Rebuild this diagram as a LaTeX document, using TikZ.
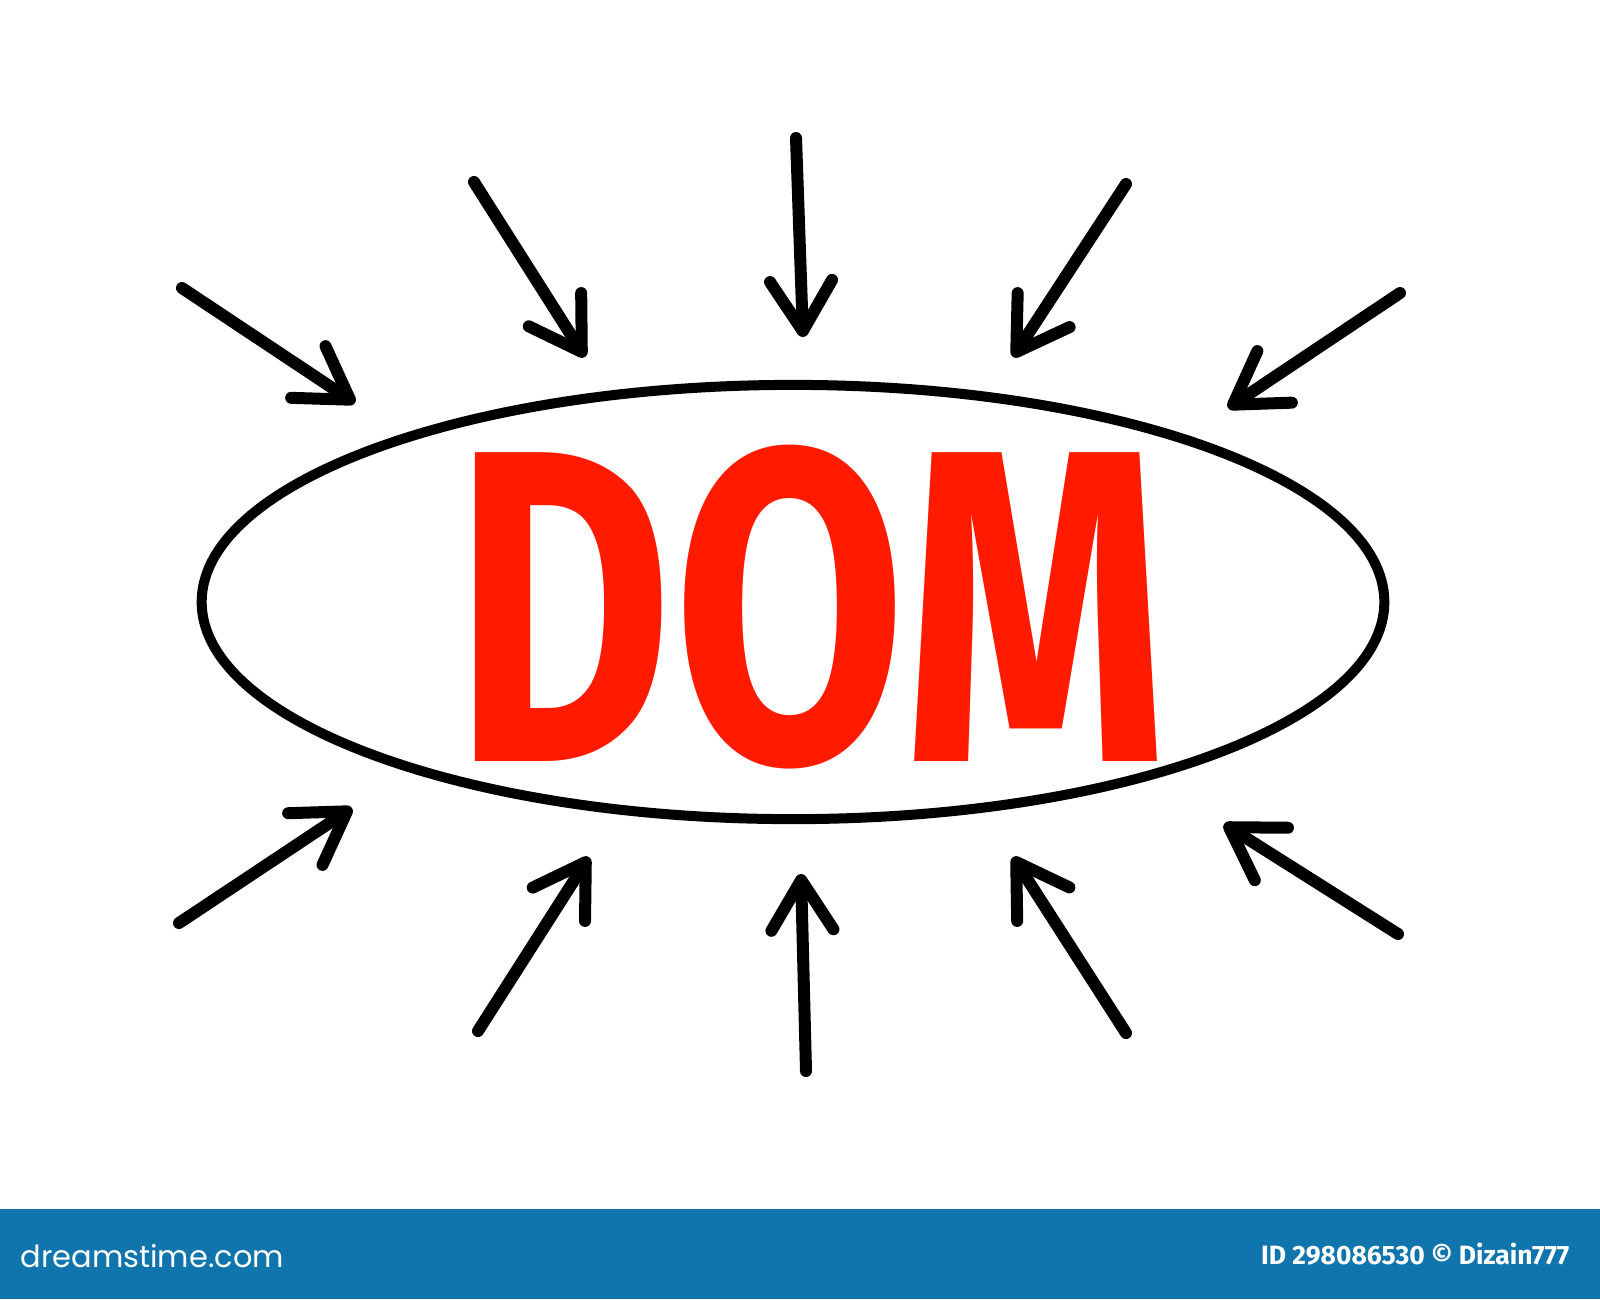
\documentclass[tikz,border=0pt]{standalone}
\usepackage{fontspec}
\usepackage{graphicx}
\usetikzlibrary{arrows.meta,shapes.geometric}
\setmainfont{Fira Sans}
\newfontfamily\logofont{Poppins}
\definecolor{domred}{HTML}{FF1A00}
\definecolor{bannerblue}{HTML}{1175AD}
\tikzset{
  pointer/.style={line width=0.12cm, line cap=round, -{Straight Barb[round,length=0.5cm,width=0.62cm]}},
  ring/.style={ellipse, draw, line width=0.1cm, inner sep=0pt, minimum width=11.82cm, minimum height=4.34cm}
}
\begin{document}
\begin{tikzpicture}[x=0.01cm, y=-0.01cm]
            \useasboundingbox (0,0) rectangle (1600,1299);
            \node[ring] (oval) at (793,602) {};
            \node[text=domred, inner sep=0pt] (dom) at (811,607) {\resizebox{7.14cm}{3.16cm}{\bfseries DOM}};
            \foreach \i/\tx/\ty/\hx/\hy in {1/182/288/355/403, 2/474/182/585/357, 3/796/138/803/337, 4/1126/184/1013/357, 5/1400/293/1228/408,
                                         6/179/923/352/808, 7/478/1031/589/857, 8/806/1071/801/874, 9/1126/1033/1013/857, 10/1398/934/1224/824} {
                \coordinate (tail\i) at (\tx,\ty);
                \coordinate (head\i) at (\hx,\hy);
                \draw[pointer] (tail\i) -- (head\i);
            }
            % banner
            \fill[bannerblue] (0,1209) rectangle (1600,1299);
            \node[text=white, anchor=west, inner sep=0pt] (site) at (20,1256) {\resizebox{2.63cm}{!}{\logofont dreamstime.com}};
            \node[text=white, anchor=east, inner sep=0pt] (credit) at (1570,1254) {\resizebox{3.08cm}{!}{\bfseries ID 298086530 © Dizain777}};
        \end{tikzpicture}
\end{document}
